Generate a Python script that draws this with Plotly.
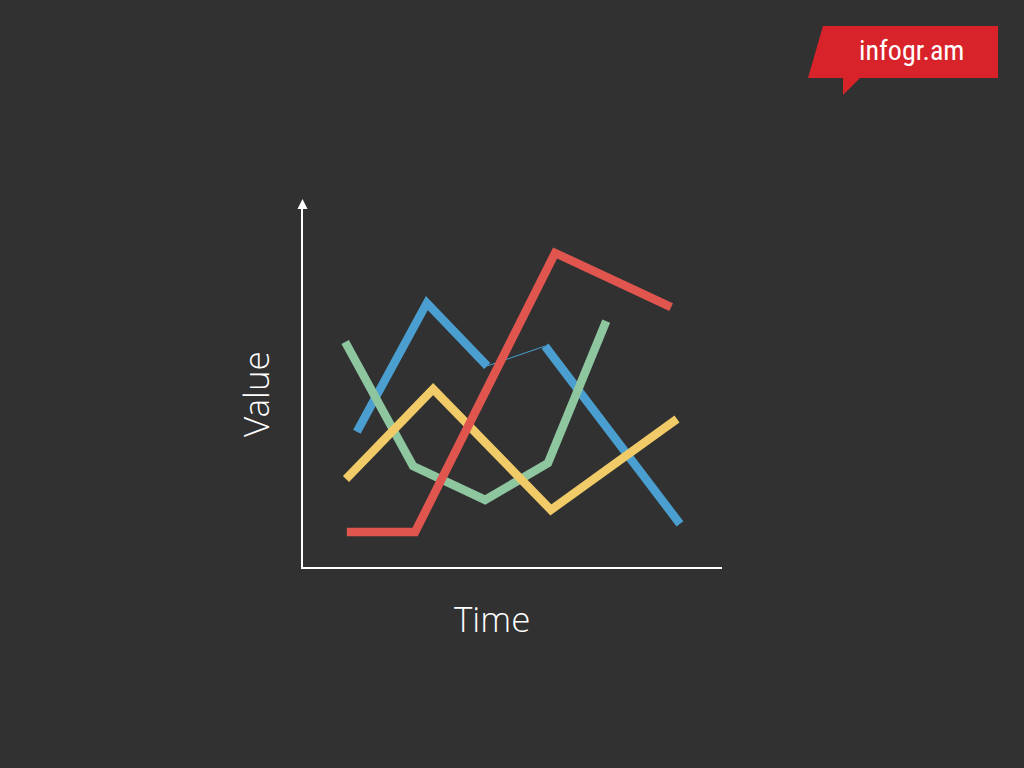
import plotly.graph_objects as go

# Data (arbitrary units, 0-100 on both axes)
blue_x = [13.1, 29.8, 44.2, 58.0, 90.2]
blue_y = [37.0, 72.0, 54.9, 60.3, 12.0]
green_x = [10.3, 26.5, 43.7, 58.7, 72.6]
green_y = [61.4, 27.7, 18.5, 28.5, 67.1]
yellow_x = [10.5, 31.3, 59.4, 89.5]
yellow_y = [24.2, 48.6, 15.8, 40.5]
red_x = [10.7, 27.0, 60.4, 88.1]
red_y = [9.8, 9.8, 85.6, 70.9]

BG = "#313131"
BLUE = "#4a9fd0"
GREEN = "#8ec6a0"
YELLOW = "#f0cb68"
RED = "#e0564f"
LW = 8.5

W, H = 1024, 768
L, R, T, B = 302, 721, 200, 568


def px(x):
    return (x - L) / (R - L)


def py(y):
    return (B - y) / (B - T)


fig = go.Figure()

# blue: thick, thin gap segment, thick
fig.add_trace(go.Scatter(x=blue_x[:3], y=blue_y[:3], mode="lines",
                         line=dict(color=BLUE, width=LW), hoverinfo="skip"))
fig.add_trace(go.Scatter(x=blue_x[2:4], y=blue_y[2:4], mode="lines",
                         line=dict(color=BLUE, width=1), hoverinfo="skip"))
fig.add_trace(go.Scatter(x=blue_x[3:], y=blue_y[3:], mode="lines",
                         line=dict(color=BLUE, width=LW), hoverinfo="skip"))
fig.add_trace(go.Scatter(x=green_x, y=green_y, mode="lines",
                         line=dict(color=GREEN, width=LW), hoverinfo="skip"))
fig.add_trace(go.Scatter(x=yellow_x, y=yellow_y, mode="lines",
                         line=dict(color=YELLOW, width=LW), hoverinfo="skip"))
fig.add_trace(go.Scatter(x=red_x, y=red_y, mode="lines",
                         line=dict(color=RED, width=LW), hoverinfo="skip"))

shapes = [
    # x axis
    dict(type="line", xref="paper", yref="paper", x0=px(301), x1=px(722),
         y0=py(568), y1=py(568), line=dict(color="white", width=2)),
    # y axis
    dict(type="line", xref="paper", yref="paper", x0=px(302), x1=px(302),
         y0=py(569), y1=py(206), line=dict(color="white", width=2)),
    # arrow head
    dict(type="path", xref="paper", yref="paper",
         path=f"M {px(297.5)} {py(209)} L {px(302.5)} {py(199)} L {px(307.5)} {py(209)} Z",
         fillcolor="white", line=dict(color="white", width=0)),
    # logo
    dict(type="path", xref="paper", yref="paper",
         path=(f"M {px(823)} {py(26)} L {px(998)} {py(26)} L {px(998)} {py(78)} "
               f"L {px(860)} {py(78)} L {px(843)} {py(95)} L {px(843)} {py(78)} "
               f"L {px(808)} {py(78)} Z"),
         fillcolor="#d9232b", line=dict(width=0)),
]

annotations = [
    dict(text="infogr.am", xref="paper", yref="paper", x=px(911), y=py(51),
         showarrow=False, font=dict(family="Roboto Condensed, Roboto, sans-serif",
                                    size=28, color="white"),
         xanchor="center", yanchor="middle"),
    dict(text="Value", xref="paper", yref="paper", x=px(255), y=py(394),
         showarrow=False, textangle=-90,
         font=dict(family="Open Sans Light, Open Sans", size=35, color="white", weight=300),
         xanchor="center", yanchor="middle"),
    dict(text="Time", xref="paper", yref="paper", x=px(492), y=py(618),
         showarrow=False,
         font=dict(family="Open Sans Light, Open Sans", size=35, color="white", weight=300),
         xanchor="center", yanchor="middle"),
]

fig.update_layout(
    width=W, height=H,
    margin=dict(l=L, r=W - R, t=T, b=H - B, pad=0),
    paper_bgcolor=BG, plot_bgcolor=BG,
    showlegend=False,
    xaxis=dict(range=[0, 100], visible=False, fixedrange=True),
    yaxis=dict(range=[0, 100], visible=False, fixedrange=True),
    shapes=shapes, annotations=annotations,
)

fig.write_html("out.html", config=dict(displayModeBar=False),
               post_script="document.body.style.margin='0';document.body.style.background='#313131';")
